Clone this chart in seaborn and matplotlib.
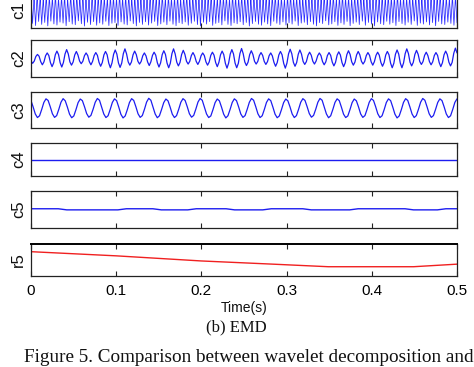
import numpy as np
import pandas as pd
import matplotlib
matplotlib.use("Agg")
import matplotlib.pyplot as plt
import seaborn as sns

# ---------------- data ----------------
labels = ["c1", "c2", "c3", "c4", "c5", "r5"]
time_ticks = [0, 0.1, 0.2, 0.3, 0.4, 0.5]
tick_labels = ["0", "0.1", "0.2", "0.3", "0.4", "0.5"]

# c1: very fast IMF, successive peaks / troughs
c1_peaks = [
    0.88, 0.74, 0.95, 0.81, 0.70, 0.92, 0.86, 0.77, 0.97, 0.73,
    0.84, 0.90, 0.69, 0.93, 0.79, 0.87, 0.72, 0.96, 0.82, 0.75,
    0.91, 0.68, 0.85, 0.94, 0.78, 0.71, 0.89, 0.83, 0.76, 0.98,
    0.74, 0.87, 0.92, 0.70, 0.80, 0.95, 0.73, 0.86, 0.79, 0.90,
    0.93, 0.77, 0.84, 0.96, 0.71, 0.88, 0.75, 0.82, 0.91, 0.69,
    0.86, 0.94, 0.72, 0.80, 0.97, 0.76, 0.89, 0.74, 0.85, 0.92,
    0.78, 0.70, 0.93, 0.83, 0.87, 0.73, 0.96, 0.81, 0.75, 0.90,
    0.84, 0.92, 0.68, 0.88, 0.79, 0.95, 0.72, 0.86, 0.77, 0.91,
    0.94, 0.76, 0.83, 0.70, 0.89, 0.97, 0.74, 0.82, 0.87, 0.71,
    0.80, 0.93, 0.78, 0.85, 0.96, 0.73, 0.90, 0.75, 0.84, 0.92,
    0.69, 0.87, 0.95, 0.77, 0.81, 0.74, 0.91, 0.86, 0.98, 0.72,
    0.88, 0.79, 0.83, 0.94, 0.70, 0.89, 0.76, 0.93, 0.82, 0.85,
    0.97, 0.73, 0.86, 0.78, 0.91, 0.75, 0.84, 0.96, 0.71, 0.88,
    0.80, 0.92, 0.74, 0.87, 0.95, 0.79, 0.83, 0.70, 0.90, 0.86,
]
c1_troughs = [
    -0.82, -0.95, -0.70, -0.88, -0.76, -0.97, -0.68, -0.85, -0.92, -0.74,
    -0.80, -0.96, -0.72, -0.86, -0.90, -0.66, -0.84, -0.98, -0.75, -0.89,
    -0.71, -0.93, -0.79, -0.87, -0.69, -0.95, -0.81, -0.77, -0.94, -0.73,
    -0.86, -0.91, -0.67, -0.83, -0.97, -0.76, -0.88, -0.72, -0.92, -0.80,
    -0.70, -0.95, -0.85, -0.74, -0.90, -0.68, -0.87, -0.96, -0.78, -0.84,
    -0.73, -0.93, -0.81, -0.69, -0.89, -0.97, -0.75, -0.86, -0.71, -0.94,
    -0.82, -0.77, -0.91, -0.67, -0.88, -0.95, -0.79, -0.84, -0.72, -0.90,
    -0.76, -0.98, -0.83, -0.70, -0.87, -0.93, -0.74, -0.85, -0.96, -0.69,
    -0.81, -0.89, -0.73, -0.92, -0.78, -0.86, -0.68, -0.95, -0.80, -0.75,
    -0.90, -0.71, -0.87, -0.97, -0.77, -0.83, -0.66, -0.91, -0.85, -0.72,
    -0.94, -0.79, -0.88, -0.70, -0.96, -0.82, -0.74, -0.89, -0.68, -0.93,
    -0.76, -0.86, -0.97, -0.73, -0.84, -0.90, -0.69, -0.87, -0.78, -0.95,
    -0.71, -0.83, -0.92, -0.75, -0.88, -0.67, -0.94, -0.80, -0.86, -0.73,
    -0.91, -0.77, -0.96, -0.70, -0.85, -0.89, -0.74, -0.82, -0.93, -0.79,
]

# c2: beating IMF, 6 readings per cycle (44 cycles)
c2_values = [
    -0.13, -0.26, -0.14, 0.11, 0.22, 0.12,
    -0.17, -0.34, -0.18, 0.15, 0.30, 0.16,
    -0.22, -0.44, -0.23, 0.20, 0.40, 0.21,
    -0.23, -0.46, -0.22, 0.24, 0.48, 0.25,
    -0.18, -0.36, -0.19, 0.19, 0.38, 0.18,
    -0.14, -0.28, -0.15, 0.15, 0.30, 0.16,
    -0.17, -0.34, -0.16, 0.16, 0.32, 0.17,
    -0.21, -0.42, -0.22, 0.19, 0.38, 0.20,
    -0.25, -0.50, -0.24, 0.23, 0.46, 0.24,
    -0.24, -0.48, -0.25, 0.26, 0.52, 0.25,
    -0.18, -0.36, -0.19, 0.20, 0.40, 0.21,
    -0.15, -0.30, -0.16, 0.15, 0.30, 0.14,
    -0.19, -0.38, -0.18, 0.17, 0.34, 0.18,
    -0.23, -0.46, -0.24, 0.21, 0.42, 0.22,
    -0.25, -0.50, -0.26, 0.26, 0.52, 0.25,
    -0.20, -0.40, -0.21, 0.22, 0.44, 0.23,
    -0.15, -0.30, -0.16, 0.16, 0.32, 0.15,
    -0.16, -0.32, -0.15, 0.15, 0.30, 0.16,
    -0.18, -0.36, -0.19, 0.17, 0.34, 0.18,
    -0.22, -0.44, -0.21, 0.20, 0.40, 0.21,
    -0.26, -0.52, -0.25, 0.24, 0.48, 0.25,
    -0.25, -0.50, -0.26, 0.27, 0.54, 0.26,
    -0.19, -0.38, -0.20, 0.21, 0.42, 0.22,
    -0.15, -0.30, -0.16, 0.16, 0.32, 0.17,
    -0.16, -0.32, -0.17, 0.15, 0.30, 0.14,
    -0.21, -0.42, -0.22, 0.19, 0.38, 0.20,
    -0.26, -0.52, -0.25, 0.25, 0.50, 0.26,
    -0.21, -0.42, -0.22, 0.23, 0.46, 0.24,
    -0.16, -0.32, -0.17, 0.17, 0.34, 0.18,
    -0.15, -0.30, -0.14, 0.15, 0.30, 0.16,
    -0.17, -0.34, -0.18, 0.16, 0.32, 0.17,
    -0.20, -0.40, -0.21, 0.18, 0.36, 0.19,
    -0.22, -0.44, -0.23, 0.21, 0.42, 0.22,
    -0.18, -0.36, -0.19, 0.19, 0.38, 0.20,
    -0.15, -0.30, -0.16, 0.16, 0.32, 0.17,
    -0.18, -0.36, -0.17, 0.17, 0.34, 0.18,
    -0.21, -0.42, -0.22, 0.19, 0.38, 0.20,
    -0.25, -0.50, -0.26, 0.23, 0.46, 0.24,
    -0.25, -0.50, -0.24, 0.26, 0.52, 0.27,
    -0.20, -0.40, -0.21, 0.22, 0.44, 0.23,
    -0.16, -0.32, -0.17, 0.17, 0.34, 0.16,
    -0.17, -0.34, -0.18, 0.16, 0.32, 0.17,
    -0.22, -0.44, -0.23, 0.20, 0.40, 0.21,
    -0.20, -0.40, -0.21, 0.28, 0.56, 0.30,
]

# c3: ~50 Hz IMF, 8 readings per cycle (25 cycles)
c3_values = [
    0.52, 0.17, -0.22, -0.42, -0.32, 0.03, 0.42, 0.62,
    0.53, 0.18, -0.21, -0.41, -0.31, 0.04, 0.43, 0.63,
    0.51, 0.16, -0.23, -0.43, -0.33, 0.02, 0.41, 0.61,
    0.52, 0.18, -0.20, -0.40, -0.30, 0.04, 0.43, 0.64,
    0.54, 0.17, -0.22, -0.42, -0.32, 0.03, 0.42, 0.62,
    0.52, 0.16, -0.24, -0.44, -0.33, 0.02, 0.42, 0.63,
    0.53, 0.18, -0.21, -0.41, -0.31, 0.04, 0.44, 0.65,
    0.54, 0.17, -0.22, -0.43, -0.32, 0.03, 0.41, 0.61,
    0.51, 0.16, -0.23, -0.42, -0.31, 0.04, 0.43, 0.63,
    0.53, 0.18, -0.21, -0.40, -0.30, 0.05, 0.44, 0.64,
    0.54, 0.17, -0.22, -0.42, -0.33, 0.02, 0.41, 0.61,
    0.51, 0.16, -0.23, -0.44, -0.32, 0.03, 0.42, 0.62,
    0.52, 0.17, -0.22, -0.41, -0.31, 0.04, 0.43, 0.64,
    0.54, 0.18, -0.21, -0.42, -0.32, 0.03, 0.42, 0.62,
    0.52, 0.16, -0.23, -0.43, -0.33, 0.02, 0.41, 0.61,
    0.51, 0.17, -0.22, -0.42, -0.31, 0.04, 0.43, 0.63,
    0.53, 0.18, -0.20, -0.40, -0.30, 0.04, 0.43, 0.64,
    0.54, 0.17, -0.22, -0.43, -0.32, 0.03, 0.42, 0.62,
    0.52, 0.16, -0.23, -0.42, -0.33, 0.02, 0.41, 0.61,
    0.51, 0.17, -0.22, -0.41, -0.31, 0.04, 0.43, 0.63,
    0.53, 0.18, -0.21, -0.42, -0.32, 0.03, 0.42, 0.62,
    0.52, 0.16, -0.23, -0.44, -0.33, 0.02, 0.42, 0.63,
    0.53, 0.17, -0.22, -0.42, -0.31, 0.04, 0.43, 0.64,
    0.54, 0.18, -0.21, -0.41, -0.31, 0.04, 0.42, 0.62,
    0.52, 0.17, -0.22, -0.42, -0.32, 0.03, 0.42, 0.62,
]

# c4: flat
c4_t = [0.0, 0.1, 0.2, 0.3, 0.4, 0.5]
c4_v = [0.0, 0.0, 0.0, 0.0, 0.0, 0.0]

# c5: almost flat, small slow steps
c5_t = [0.0, 0.032, 0.042, 0.102, 0.112, 0.143, 0.153, 0.184, 0.194, 0.229, 0.239,
        0.272, 0.282, 0.319, 0.329, 0.374, 0.384, 0.439, 0.449, 0.477, 0.487, 0.5]
c5_v = [0.04, 0.04, -0.02, -0.02, 0.04, 0.04, -0.02, -0.02, 0.04, 0.04, -0.02,
        -0.02, 0.04, 0.04, -0.02, -0.02, 0.04, 0.04, -0.02, -0.02, 0.04, 0.04]

# r5: residual trend
r5_t = [0.0, 0.1, 0.2, 0.284, 0.349, 0.449, 0.5]
r5_v = [0.76, 0.63, 0.47, 0.37, 0.29, 0.29, 0.37]

# ---------------- assemble series ----------------
c1_v = np.ravel(np.column_stack([c1_peaks, c1_troughs]))
c1_t = np.linspace(0, 0.5, len(c1_v))
c2_v = np.array(c2_values)
c2_t = np.linspace(0, 0.5, len(c2_v))
c3_v = np.array(c3_values)
c3_t = np.linspace(0, 0.5, len(c3_v))

series = {
    "c1": (c1_t, c1_v),
    "c2": (c2_t, c2_v),
    "c3": (c3_t, c3_v),
    "c4": (np.array(c4_t), np.array(c4_v)),
    "c5": (np.array(c5_t), np.array(c5_v)),
    "r5": (np.array(r5_t), np.array(r5_v)),
}

# ---------------- drawing ----------------
sns.set_theme(style="white")
plt.rcParams["font.family"] = ["Liberation Sans", "DejaVu Sans"]

W, H = 474, 367
fig = plt.figure(figsize=(W / 100, H / 100), dpi=100)
fig.patch.set_facecolor("white")

left_px, right_px = 31, 457
panel_px = [(-8, 28), (40, 77), (92, 128), (143, 176), (191, 228), (244, 276)]
ylims = {"c1": (-1.1, 1.1), "c2": (-1, 1), "c3": (-1, 1), "c4": (-1, 1),
         "c5": (-1, 1), "r5": (0, 1)}
colors = {k: "#1c1cf0" for k in labels}
colors["c1"] = "#2a2aff"
colors["r5"] = "#f02020"
widths = {"c1": 0.55, "c2": 0.9, "c3": 0.9, "c4": 1.0, "c5": 1.0, "r5": 1.0}

axes = []
for name, (top, bot) in zip(labels, panel_px):
    ax = fig.add_axes([left_px / W, 1 - bot / H, (right_px - left_px) / W, (bot - top) / H])
    t, v = series[name]
    df = pd.DataFrame({"t": t, "v": v})
    sns.lineplot(data=df, x="t", y="v", ax=ax, color=colors[name],
                 linewidth=widths[name], estimator=None, sort=False)
    ax.set_xlim(0, 0.5)
    ax.set_ylim(*ylims[name])
    ax.set_xticks(time_ticks)
    ax.set_yticks([])
    ax.tick_params(axis="x", direction="in", top=True, bottom=True, length=3.5,
                   width=0.8, color="#222222", labelsize=11, pad=6,
                   labelcolor="black")
    for s in ax.spines.values():
        s.set_color("#222222")
        s.set_linewidth(0.9)
    ax.set_facecolor("white")
    ax.set_ylabel(name, fontsize=12, color="#111111")
    ax.yaxis.set_label_coords(-0.012, 0.5)
    ax.set_xlabel("")
    if name == "r5":
        ax.set_xticklabels(tick_labels)
        ax.set_xlabel("Time(s)", fontsize=10, labelpad=2, color="#111111")
        ax.spines["top"].set_linewidth(1.4)
        ax.spines["top"].set_color("black")
    else:
        ax.tick_params(axis="x", labelbottom=False)
    axes.append(ax)

fig.text(236 / W, 1 - 327 / H, "(b) EMD", ha="center", va="center",
         fontsize=12, family=["Liberation Serif", "DejaVu Serif"], color="#111111")
fig.text(248.5 / W, 1 - 362 / H, "Figure 5. Comparison between wavelet decomposition and",
         ha="center", va="baseline", fontsize=13.8,
         family=["Liberation Serif", "DejaVu Serif"], color="#111111")

fig.savefig("out.png", dpi=100, facecolor="white")
